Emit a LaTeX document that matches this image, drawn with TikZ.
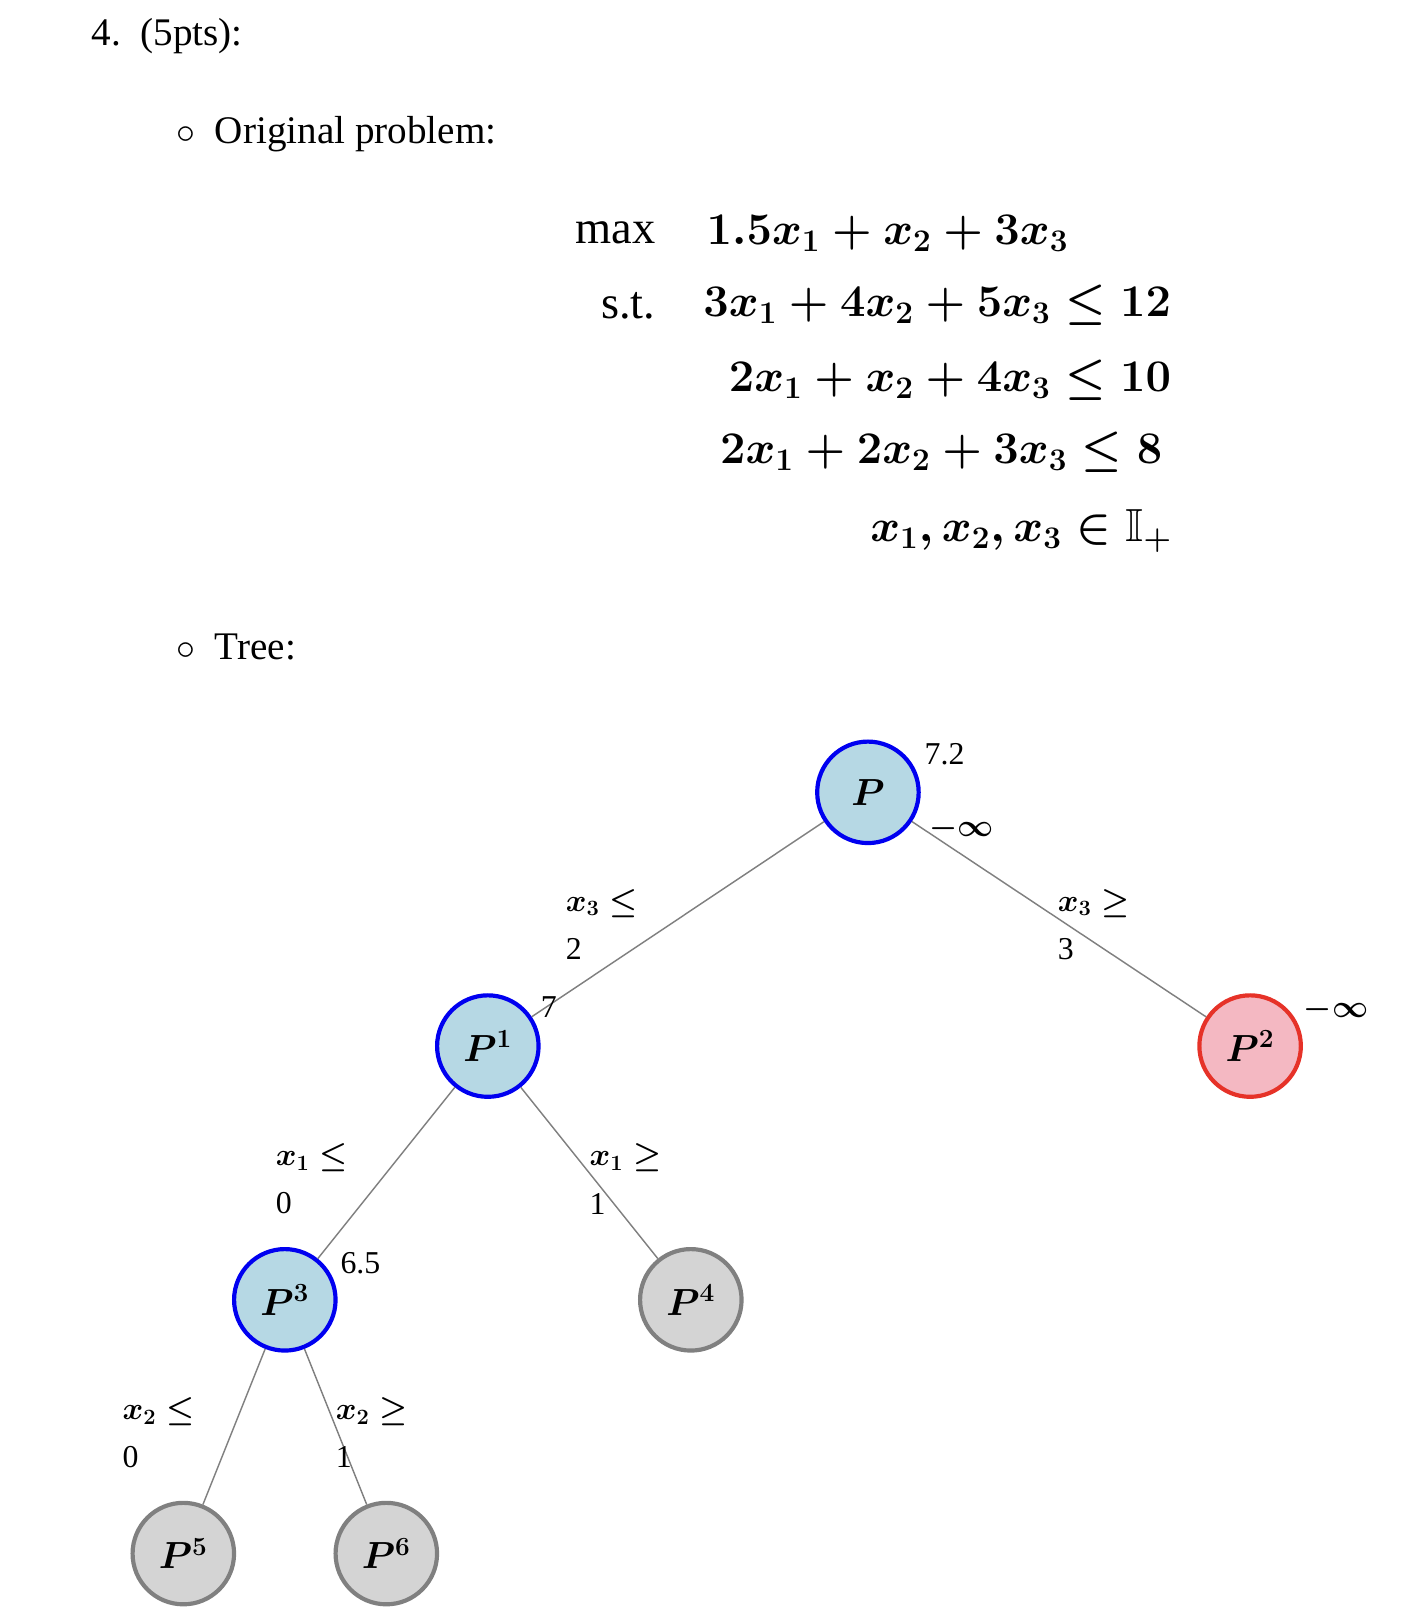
\documentclass[tikz,border=0pt]{standalone}
\usepackage{amsmath,amssymb}
\usepackage{fontspec}
\setmainfont{Liberation Serif}
\begin{document}
\begin{tikzpicture}[x=0.02cm,y=-0.02cm,
  body/.style={font=\fontsize{21.5}{24}\selectfont,inner sep=0},
  mth/.style={font=\fontsize{25.5}{28}\selectfont\boldmath,inner sep=0},
  lbl/.style={font=\fontsize{17.5}{20}\selectfont\boldmath,inner sep=0},
  pn/.style={circle,minimum size=1.96cm,line width=2.3pt,font=\fontsize{20}{22}\selectfont\boldmath,inner sep=0},
  act/.style={pn,draw={rgb,255:red,0;green,0;blue,240},fill={rgb,255:red,182;green,216;blue,228}},
  bad/.style={pn,draw={rgb,255:red,230;green,50;blue,40},fill={rgb,255:red,244;green,184;blue,194}},
  off/.style={pn,draw={rgb,255:red,128;green,128;blue,128},fill={rgb,255:red,212;green,212;blue,212}},
  edge/.style={draw={rgb,255:red,128;green,128;blue,128},line width=0.8pt}]
\useasboundingbox (0,0) rectangle (1352,1568);
\node[body,anchor=west] (h) at (88,35) {4.\ \ (5pts):};
\node[body,anchor=west] (o) at (170,130) {$\circ$\ \ Original problem:};
\node[body,anchor=west] (t) at (170,625) {$\circ$\ \ Tree:};
\node[mth,anchor=east] (m1) at (633,225) {max};
\node[mth,anchor=east] (m2) at (633,295) {s.t.};
\node[mth,anchor=west] (e1) at (682,225) {$1.5x_1+x_2+3x_3$};
\node[mth,anchor=east] (e2) at (1131,295) {$3x_1+4x_2+5x_3\le 12$};
\node[mth,anchor=east] (e3) at (1131,367) {$2x_1+x_2+4x_3\le 10$};
\node[mth,anchor=west] (e4) at (695,437) {$2x_1+2x_2+3x_3\le 8$};
\node[mth,anchor=west] (e5) at (840,513) {$x_1,x_2,x_3\in \mathbb{I}_+$};
\node[act] (P) at (838,765) {$P$};
\node[act] (P1) at (471,1010) {$P^1$};
\node[bad] (P2) at (1207,1010) {$P^2$};
\node[act] (P3) at (275,1255) {$P^3$};
\node[off] (P4) at (667,1255) {$P^4$};
\node[off] (P5) at (177,1500) {$P^5$};
\node[off] (P6) at (373,1500) {$P^6$};
\draw[edge] (P) -- (P1); \draw[edge] (P) -- (P2);
\draw[edge] (P1) -- (P3); \draw[edge] (P1) -- (P4);
\draw[edge] (P3) -- (P5); \draw[edge] (P3) -- (P6);
\node[lbl] (a1) at (912,728) {7.2};
\node[lbl] (a2) at (928,800) {$-\infty$};
\node[lbl] (a3) at (530,972) {7};
\node[lbl] (a4) at (1290,975) {$-\infty$};
\node[lbl] (a5) at (348,1220) {6.5};
\node[lbl,anchor=west] (l1) at (546,872) {$x_3\le$}; \node[lbl,anchor=west] (l1b) at (546,916) {2};
\node[lbl,anchor=west] (l2) at (1021,872) {$x_3\ge$}; \node[lbl,anchor=west] (l2b) at (1021,916) {3};
\node[lbl,anchor=west] (l3) at (266,1118) {$x_1\le$}; \node[lbl,anchor=west] (l3b) at (266,1162) {0};
\node[lbl,anchor=west] (l4) at (569,1118) {$x_1\ge$}; \node[lbl,anchor=west] (l4b) at (569,1162) {1};
\node[lbl,anchor=west] (l5) at (118,1363) {$x_2\le$}; \node[lbl,anchor=west] (l5b) at (118,1407) {0};
\node[lbl,anchor=west] (l6) at (324,1363) {$x_2\ge$}; \node[lbl,anchor=west] (l6b) at (324,1407) {1};
\end{tikzpicture}
\end{document}
